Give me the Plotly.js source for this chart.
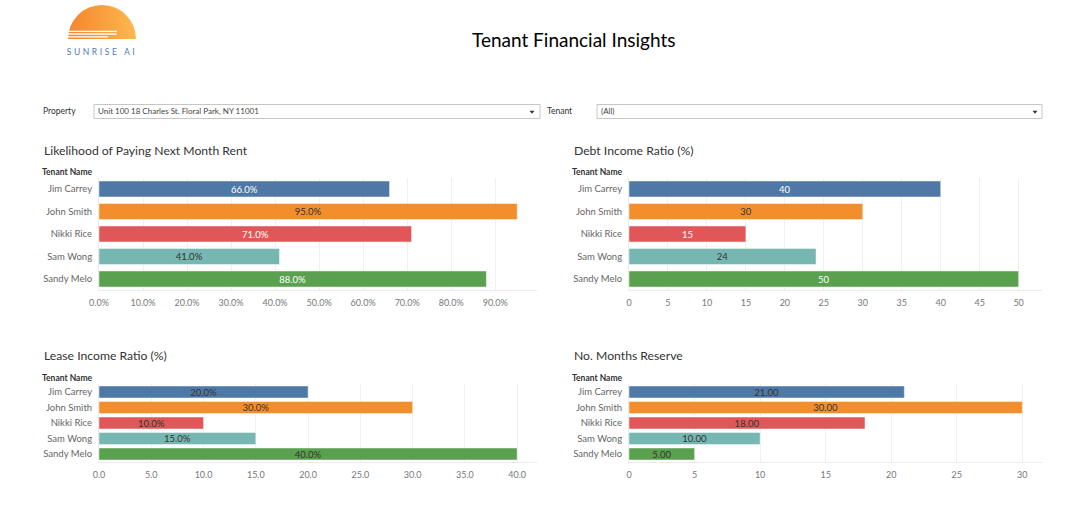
<!DOCTYPE html>
<html><head><meta charset="utf-8">
<script src="https://cdn.plot.ly/plotly-3.0.1.min.js"></script>
<style>
html,body{margin:0;padding:0;background:#fff;overflow:hidden;}
#chart{width:1080px;height:517px;}
#logo{position:absolute;left:0;top:0;pointer-events:none;}
</style>
</head><body>
<div id="chart"></div>
<svg id="logo" width="170" height="64" xmlns="http://www.w3.org/2000/svg">
  <defs>
    <linearGradient id="sun" x1="0" y1="0" x2="1" y2="0">
      <stop offset="0" stop-color="#f5852f"/>
      <stop offset="1" stop-color="#fdb84e"/>
    </linearGradient>
  </defs>
  <path d="M 68 39 A 34 34 0 0 1 136 39 Z" fill="url(#sun)"/>
  <line x1="66" y1="31.3" x2="117" y2="31.3" stroke="#fff" stroke-width="1.3"/>
  <line x1="66" y1="34" x2="116.5" y2="34" stroke="#fff" stroke-width="1.3"/>
  <line x1="66" y1="36.8" x2="108" y2="36.8" stroke="#fff" stroke-width="1.3"/>
  <text x="102" y="55" text-anchor="middle" font-family="Lato, 'Open Sans', sans-serif" font-size="8.5" letter-spacing="2.6" fill="#4d7bb6">SUNRISE AI</text>
</svg>
<script>
// ---- data ----
const tenants = ['Jim Carrey', 'John Smith', 'Nikki Rice', 'Sam Wong', 'Sandy Melo'];
const likelihoodNextRent = [0.66, 0.95, 0.71, 0.41, 0.88];
const debtIncomeRatio = [40, 30, 15, 24, 50];
const leaseIncomeRatio = [20, 30, 10, 15, 40];
const monthsReserve = [21, 30, 18, 10, 5];
const tenantColors = ['#4e79a7', '#f28e2b', '#e15759', '#76b7b2', '#59a14f'];
const chartTitles = ['Likelihood of Paying Next Month Rent', 'Debt Income Ratio (%)', 'Lease Income Ratio (%)', 'No. Months Reserve'];
const propertyValue = 'Unit 100 18 Charles St. Floral Park, NY 11001';
const tenantValue = '(All)';

// ---- helpers ----
const W = 1080, H = 517;
const px = x => x / W;
const py = y => 1 - y / H;
const FONT = "Lato, 'Open Sans', sans-serif";
const DARK = '#333333';
const LIGHT = '#ffffff';

function barTrace(values, xa, ya, fmt, textColors, width) {
  return {
    type: 'bar', orientation: 'h',
    y: tenants, x: values,
    xaxis: xa, yaxis: ya,
    width: width,
    marker: {color: tenantColors, line: {color: 'rgba(255,255,255,0.45)', width: 1}},
    texttemplate: fmt,
    textposition: 'inside', insidetextanchor: 'middle', textangle: 0,
    constraintext: 'none', cliponaxis: false,
    textfont: {family: FONT, size: 9.5, color: textColors},
    hoverinfo: 'none', showlegend: false
  };
}

const topText = [LIGHT, DARK, LIGHT, DARK, LIGHT];
const botText = [DARK, DARK, DARK, DARK, DARK];

const data = [
  barTrace(likelihoodNextRent, 'x', 'y', '%{x:.1%}', topText, 0.71),
  barTrace(debtIncomeRatio, 'x2', 'y2', '%{x:d}', topText, 0.71),
  barTrace(leaseIncomeRatio, 'x3', 'y3', '%{x:.1f}%', botText, 0.77),
  barTrace(monthsReserve, 'x4', 'y4', '%{x:.2f}', botText, 0.77)
];

function xAxis(dom, anchor, range, dtick, fmt) {
  return {
    domain: dom, anchor: anchor, range: range, tick0: 0, dtick: dtick, tickformat: fmt,
    showgrid: true, gridcolor: '#f0f0f0', gridwidth: 1,
    showline: true, linecolor: '#ebebeb', linewidth: 1,
    zeroline: false, ticks: '', fixedrange: true, ticklabelstandoff: 4,
    tickfont: {family: FONT, size: 9, color: '#777777'}
  };
}
function yAxis(dom, anchor) {
  return {
    domain: dom, anchor: anchor, type: 'category',
    categoryorder: 'array', categoryarray: tenants, autorange: 'reversed',
    showgrid: false, zeroline: false, showline: true, linecolor: '#ebebeb',
    ticks: 'outside', ticklen: 4, tickcolor: 'rgba(0,0,0,0)', fixedrange: true,
    tickfont: {family: FONT, size: 9.5, color: '#666666'}
  };
}

const leftX = [px(99), px(537)];
const rightX = [px(629), px(1042)];
const topY = [py(290.25), py(177.75)];
const botY = [py(461.75), py(384.25)];

function ann(text, x, y, size, color, opts) {
  return Object.assign({
    text: text, x: px(x), y: py(y), xref: 'paper', yref: 'paper',
    xanchor: 'left', yanchor: 'middle', showarrow: false,
    font: {family: FONT, size: size, color: color}
  }, opts || {});
}
function tri(cx, cy) {
  return {
    type: 'path', xref: 'paper', yref: 'paper',
    path: `M ${px(cx - 2.5)} ${py(cy - 1.3)} L ${px(cx + 2.5)} ${py(cy - 1.3)} L ${px(cx)} ${py(cy + 1.7)} Z`,
    fillcolor: '#333333', line: {width: 0}
  };
}

const annotations = [
  ann('Tenant Financial Insights', 573, 39, 19, '#000000', {xanchor: 'center'}),
  ann('Property', 41, 111.5, 8.5, '#333333'),
  ann(propertyValue, 96, 111.5, 8, '#444444'),
  ann('Tenant', 545, 111.5, 8.5, '#333333'),
  ann(tenantValue, 599, 111.5, 8, '#444444'),
  ann(chartTitles[0], 42, 150, 12.2, '#333333'),
  ann(chartTitles[1], 572, 150, 12.2, '#333333'),
  ann(chartTitles[2], 42, 355, 12.2, '#333333'),
  ann(chartTitles[3], 572, 355, 12.2, '#333333'),
  ann('<b>Tenant Name</b>', 40, 172, 8.5, '#333333'),
  ann('<b>Tenant Name</b>', 570, 172, 8.5, '#333333'),
  ann('<b>Tenant Name</b>', 40, 378, 8.5, '#333333'),
  ann('<b>Tenant Name</b>', 570, 378, 8.5, '#333333')
];

const shapes = [
  {type: 'rect', xref: 'paper', yref: 'paper', x0: px(94), x1: px(540), y0: py(118.5), y1: py(104.5),
   line: {color: '#c6c6c6', width: 1}, fillcolor: '#ffffff'},
  {type: 'rect', xref: 'paper', yref: 'paper', x0: px(597), x1: px(1042), y0: py(118.5), y1: py(104.5),
   line: {color: '#c6c6c6', width: 1}, fillcolor: '#ffffff'},
  tri(532, 112), tri(1035, 112)
];

const layout = {
  width: W, height: H,
  margin: {l: 0, r: 0, t: 0, b: 0},
  paper_bgcolor: '#ffffff', plot_bgcolor: '#ffffff',
  font: {family: FONT},
  showlegend: false,
  xaxis: xAxis(leftX, 'y', [0, 0.995], 0.1, '.1%'),
  yaxis: yAxis(topY, 'x'),
  xaxis2: xAxis(rightX, 'y2', [0, 53], 5, 'd'),
  yaxis2: yAxis(topY, 'x2'),
  xaxis3: xAxis(leftX, 'y3', [0, 41.9], 5, '.1f'),
  yaxis3: yAxis(botY, 'x3'),
  xaxis4: xAxis(rightX, 'y4', [0, 31.5], 5, 'd'),
  yaxis4: yAxis(botY, 'x4'),
  annotations: annotations,
  shapes: shapes
};

Plotly.newPlot('chart', data, layout, {displayModeBar: false, staticPlot: true});
</script>
</body></html>
